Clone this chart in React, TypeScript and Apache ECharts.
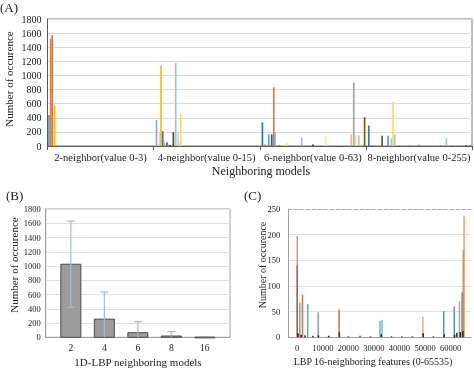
import React, { useEffect, useRef } from 'react';
import * as echarts from 'echarts';

const SERIF = '"Liberation Serif", "DejaVu Serif", serif';

// ---------- Panel A ----------
const aCategories = ['2-neighbor(value 0-3)', '4-neighbor(value 0-15)', '6-neighbor(value 0-63)', '8-neighbor(value 0-255)'];
// bin position (in category units: group i spans i..i+1)
const aBins = [
  0.014, 0.030, 0.045, 0.068,
  1.027, 1.046, 1.060, 1.070, 1.086, 1.100, 1.126, 1.136, 1.155, 1.186, 1.208, 1.230, 1.244, 1.255,
  2.025, 2.041, 2.055, 2.085, 2.113, 2.132, 2.144, 2.183, 2.254, 2.286, 2.396, 2.430, 2.502, 2.568, 2.622, 2.660, 2.757, 2.863, 2.886, 2.903, 2.933, 2.988,
  3.027, 3.067, 3.153, 3.209, 3.240, 3.256, 3.272, 3.320, 3.420, 3.500, 3.600, 3.700, 3.759, 3.810, 3.890, 3.944, 3.980,
];
const aCounts = [
  440, 1520, 1570, 570,
  366, 30, 200, 1140, 210, 40, 50, 20, 15, 195, 1175, 200, 40, 460,
  334, 30, 20, 165, 165, 830, 190, 15, 40, 10, 120, 10, 20, 8, 140, 10, 20, 165, 900, 150, 150, 410,
  290, 10, 145, 145, 108, 625, 165, 10, 10, 20, 8, 10, 110, 10, 10, 15, 12,
];
const aBarColors = [
  '#5b9bd5', '#ed7d31', '#b08068', '#ffc000',
  '#8faadc', '#c9c9c9', '#d6d0c4', '#ffc000', '#4472c4', '#a5a5a5', '#7b4a2a', '#9a9a9a', '#444444', '#375623', '#9dc3e6', '#d0d0d0', '#e2d3b0', '#ffd966',
  '#2e75b6', '#ffc000', '#ed7d31', '#5b9bd5', '#44546a', '#c0816a', '#a5a5a5', '#888888', '#ffd966', '#999999', '#9dc3e6', '#aaaaaa', '#333333', '#aaaaaa', '#ffe699', '#aaaaaa', '#bdd7ee', '#f4b183', '#a5a5a5', '#f8cbad', '#a9d18e', '#7f6000',
  '#2e75b6', '#888888', '#595959', '#5b9bd5', '#9dc3e6', '#ffd966', '#b4c7a7', '#999999', '#999999', '#a5a5a5', '#999999', '#999999', '#9dc3e6', '#999999', '#888888', '#555555', '#888888',
];
const aYTicks = { min: 0, max: 1800, step: 200 };

// ---------- Panel B ----------
const bCategories = ['2', '4', '6', '8', '16'];
const bMeans = [1025, 255, 65, 18, 3];
const bErrors = [605, 380, 155, 62, 0];
const bYTicks = { min: 0, max: 1800, step: 200 };

// ---------- Panel C ----------
const cFeatures = [
  0, 1, 1024, 2048, 4096, 8192, 16384, 32400, 33200, 49152, 57344, 61440, 63488, 64512, 65024, 65280,
  300, 1500, 3072, 6144, 8300, 12288, 16500, 20000, 24576, 28672, 32900, 36864, 40960, 45056, 49300, 53248, 57500, 61600, 62464, 63800, 64800,
];
const cCounts = [
  198, 140, 68, 83, 65, 49, 54, 32, 34, 40, 51, 60, 70, 88, 170, 237,
  8, 5, 4, 3, 4, 3, 10, 2, 3, 2, 6, 2, 2, 2, 8, 2, 6, 5, 9, 10, 12,
];
const cBarColors = [
  '#e3967a', '#a0645a', '#5fb3a8', '#d0706a', '#6aa8b8', '#8a9cc8', '#b8735a', '#6cb8c0', '#80c0c8', '#f0a88a', '#5a9aa0', '#4aa0b8', '#f09070', '#5aa098', '#a0604a', '#f0a070',
  '#222', '#222', '#222', '#222', '#222', '#222', '#333', '#444', '#444', '#444', '#222', '#444', '#444', '#444', '#222', '#444', '#222', '#222', '#222', '#222', '#222',
];
const cYTicks = { min: 0, max: 250, step: 50 };
const cXRange = { min: -3500, max: 68000, step: 500, labelStep: 10000, labelMax: 60000 };

export default function App() {
  const ref = useRef<HTMLDivElement>(null);
  useEffect(() => {
    document.body.style.margin = '0';
    const chart = echarts.init(ref.current!, null, { renderer: 'svg' });

    const thinBar = (w: number) => (params: any, api: any) => {
      const x = api.value(0);
      const y = api.value(1);
      const p0 = api.coord([x, 0]);
      const p1 = api.coord([x, y]);
      return {
        type: 'rect',
        shape: { x: p0[0] - w / 2, y: p1[1], width: w, height: Math.max(0.5, p0[1] - p1[1]) },
        style: { fill: api.visual('color') },
      };
    };

    const aData = aBins.map((x, i) => ({ value: [x, aCounts[i]], itemStyle: { color: aBarColors[i] } }));
    const cData = cFeatures.map((x, i) => ({ value: [x, cCounts[i]], itemStyle: { color: cBarColors[i] } }));
    const bData = bMeans.map((m, i) => [i + 1, m, bErrors[i]]);

    const labelStyle = { fontFamily: SERIF, color: '#222' };
    const plain = (v: number) => String(v);

    chart.setOption({
      animation: false,
      grid: [
        { left: 47.5, top: 19, width: 424.5, height: 127, show: true, borderColor: '#7f7f7f', borderWidth: 1 },
        { left: 45.7, top: 209, width: 184.3, height: 128.3, show: true, borderColor: '#a0a0a0', borderWidth: 1 },
        { left: 288.3, top: 209, width: 183.7, height: 128.3 },
      ],
      xAxis: [
        {
          gridIndex: 0, type: 'category', data: aCategories, boundaryGap: true,
          axisLine: { onZero: false, lineStyle: { color: '#595959', width: 1 } },
          axisTick: { show: true, interval: 0, length: 4, lineStyle: { color: '#595959' } },
          axisLabel: { ...labelStyle, fontSize: 10.5, margin: 6, interval: 0 },
          splitLine: { show: false },
        },
        { gridIndex: 0, type: 'value', min: 0, max: 4, show: false },
        {
          gridIndex: 1, type: 'value', min: 0.25, max: 5.75, interval: 0.25,
          axisLine: { onZero: false, lineStyle: { color: '#a0a0a0' } },
          axisTick: { show: false },
          splitLine: { show: false },
          axisLabel: {
            ...labelStyle, fontSize: 9.5, margin: 6,
            formatter: (v: number) => {
              const k = Math.round(v);
              return Math.abs(v - k) < 1e-6 && k >= 1 && k <= bCategories.length ? bCategories[k - 1] : '';
            },
          },
        },
        {
          gridIndex: 2, type: 'value', min: cXRange.min, max: cXRange.max, interval: cXRange.step,
          axisLine: { onZero: false, lineStyle: { color: '#a0a0a0' } },
          axisTick: { show: false },
          splitLine: { show: false },
          axisLabel: {
            ...labelStyle, fontSize: 8.5, margin: 6,
            formatter: (v: number) => (v >= 0 && v <= cXRange.labelMax && v % cXRange.labelStep === 0 ? String(v) : ''),
          },
        },
        {
          gridIndex: 2, type: 'value', position: 'top', min: cXRange.min, max: cXRange.max,
          axisLine: { show: true, onZero: false, lineStyle: { color: '#a8a8a8', type: [3, 3] } },
          axisTick: { show: false }, axisLabel: { show: false }, splitLine: { show: false },
        },
      ],
      yAxis: [
        {
          gridIndex: 0, type: 'value', min: aYTicks.min, max: aYTicks.max, interval: aYTicks.step,
          axisLine: { show: true, onZero: false, lineStyle: { color: '#595959' } },
          axisTick: { show: false },
          axisLabel: { ...labelStyle, fontSize: 10, margin: 6, formatter: plain },
          splitLine: { lineStyle: { color: '#d9d9d9' } },
        },
        {
          gridIndex: 1, type: 'value', min: bYTicks.min, max: bYTicks.max, interval: bYTicks.step,
          axisLine: { show: true, onZero: false, lineStyle: { color: '#a0a0a0' } },
          axisTick: { show: false },
          axisLabel: { ...labelStyle, fontSize: 8.5, margin: 5, formatter: plain },
          splitLine: { lineStyle: { color: '#e0e0e0' } },
        },
        {
          gridIndex: 2, type: 'value', min: cYTicks.min, max: cYTicks.max, interval: cYTicks.step,
          axisLine: { show: true, onZero: false, lineStyle: { color: '#a0a0a0' } },
          axisTick: { show: false },
          axisLabel: { ...labelStyle, fontSize: 8.5, margin: 8, formatter: plain },
          splitLine: { lineStyle: { color: '#e0e0e0' } },
        },
      ],
      series: [
        {
          type: 'custom', xAxisIndex: 1, yAxisIndex: 0, clip: true,
          encode: { x: 0, y: 1 }, data: aData, renderItem: thinBar(1.7),
        },
        {
          type: 'custom', xAxisIndex: 2, yAxisIndex: 1,
          encode: { x: 0, y: 1 }, data: bData,
          renderItem: (params: any, api: any) => {
            const x = api.value(0);
            const m = api.value(1);
            const e = api.value(2);
            const base = api.coord([x, 0]);
            const top = api.coord([x, m]);
            const hi = api.coord([x, m + e]);
            const lo = api.coord([x, Math.max(0, m - e)]);
            const bw = 20;
            const cap = 4;
            const children: any[] = [
              {
                type: 'rect',
                shape: { x: base[0] - bw / 2, y: top[1], width: bw, height: Math.max(0.8, base[1] - top[1]) },
                style: { fill: '#9b9b9b', stroke: '#4d4d4d', lineWidth: 1 },
              },
            ];
            if (e > 0) {
              children.push(
                { type: 'line', shape: { x1: base[0], y1: hi[1], x2: base[0], y2: lo[1] }, style: { stroke: '#a9bad0', lineWidth: 1.2 } },
                { type: 'line', shape: { x1: base[0] - cap, y1: hi[1], x2: base[0] + cap, y2: hi[1] }, style: { stroke: '#a9bad0', lineWidth: 1.2 } },
              );
              if (m - e > 0) {
                children.push({ type: 'line', shape: { x1: base[0] - cap, y1: lo[1], x2: base[0] + cap, y2: lo[1] }, style: { stroke: '#a9bad0', lineWidth: 1.2 } });
              }
            }
            return { type: 'group', children };
          },
        },
        {
          type: 'custom', xAxisIndex: 3, yAxisIndex: 2, clip: false,
          encode: { x: 0, y: 1 }, data: cData, renderItem: thinBar(1.5),
        },
      ],
      graphic: [
        { type: 'text', left: 0, top: 1, style: { text: '(A)', font: `13px ${SERIF}`, fill: '#222' } },
        { type: 'text', x: 9, y: 79, rotation: Math.PI / 2, style: { text: 'Number of occurence', font: `11px ${SERIF}`, fill: '#222', align: 'center', verticalAlign: 'middle' } },
        { type: 'text', x: 261, y: 171, style: { text: 'Neighboring models', font: `12px ${SERIF}`, fill: '#222', align: 'center', verticalAlign: 'middle' } },
        { type: 'text', x: 6, y: 189, style: { text: '(B)', font: `13px ${SERIF}`, fill: '#222' } },
        { type: 'text', x: 14, y: 265, rotation: Math.PI / 2, style: { text: 'Number of occurence', font: `11px ${SERIF}`, fill: '#222', align: 'center', verticalAlign: 'middle' } },
        { type: 'text', x: 138, y: 362, style: { text: '1D-LBP neighboring models', font: `11px ${SERIF}`, fill: '#222', align: 'center', verticalAlign: 'middle' } },
        { type: 'text', x: 244, y: 189, style: { text: '(C)', font: `13px ${SERIF}`, fill: '#222' } },
        { type: 'text', x: 262, y: 265, rotation: Math.PI / 2, style: { text: 'Number of occurence', font: `10px ${SERIF}`, fill: '#222', align: 'center', verticalAlign: 'middle' } },
        { type: 'text', x: 373, y: 361, style: { text: 'LBP 16-neighboring features (0-65535)', font: `10px ${SERIF}`, fill: '#222', align: 'center', verticalAlign: 'middle' } },
      ],
    });
    return () => chart.dispose();
  }, []);
  return <div ref={ref} style={{ position: 'fixed', left: 0, top: 0, width: 474, height: 368 }} />;
}
